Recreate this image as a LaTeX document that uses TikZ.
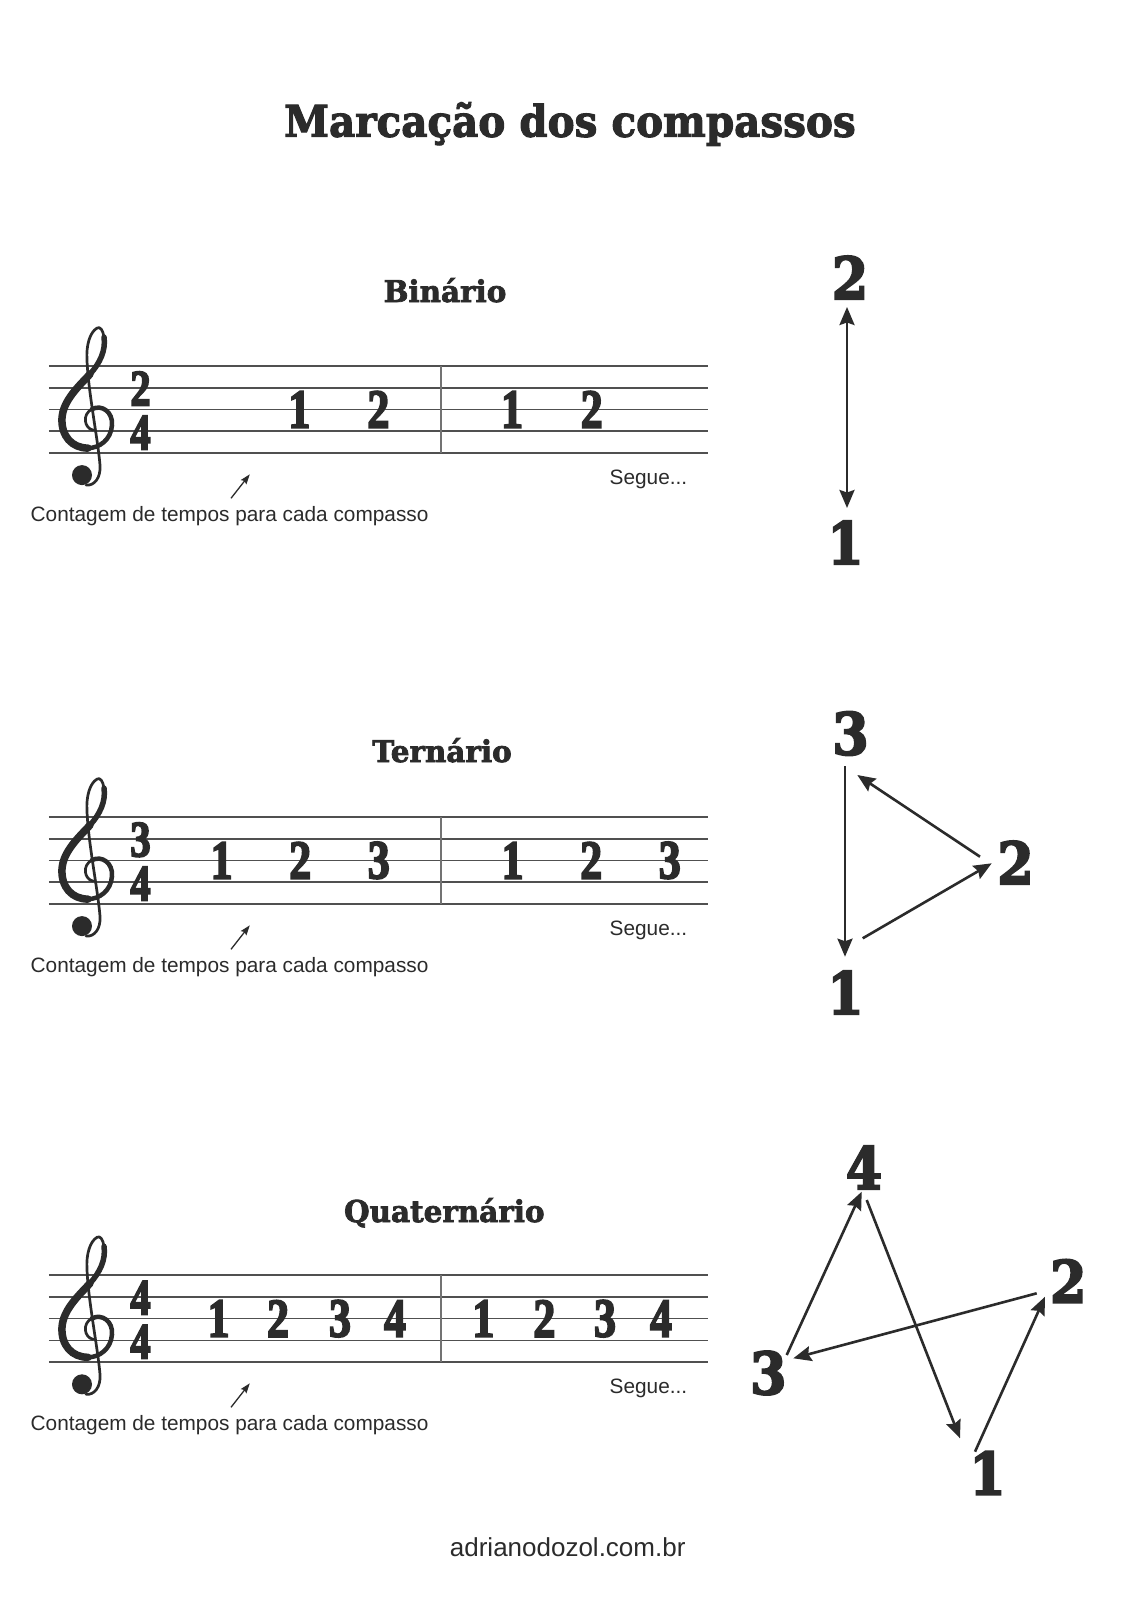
\documentclass[tikz,border=0pt]{standalone}
\usepackage{graphicx}
\usepackage{fontspec}
\setmainfont{Liberation Sans}
\newfontfamily\headfont{DejaVu Serif}[BoldFeatures={FakeBold=2.5}]
\newfontfamily\bigfont{DejaVu Serif}[BoldFeatures={FakeBold=3.5}]
\newfontfamily\numfont{Liberation Serif}[BoldFeatures={FakeBold=3.5}]
\usetikzlibrary{arrows.meta,calc}
\definecolor{ink}{HTML}{2B2B2B}
\definecolor{staffc}{HTML}{505050}
\newcommand\cz[1]{\scalebox{0.8}[1]{#1}}
\newcommand\bz[1]{\scalebox{0.9}[1]{#1}}
\newcommand\hz[1]{\scalebox{0.98}[1]{#1}}
\newcommand\tz[1]{\scalebox{0.93}[1]{#1}}
\tikzset{
  titletext/.style={font=\headfont\bfseries\fontsize{43.5}{50}\selectfont, text=ink, inner sep=0pt, anchor=base},
  headtext/.style={font=\headfont\bfseries\fontsize{30}{36}\selectfont, text=ink, inner sep=0pt, anchor=base},
  snum/.style={font=\numfont\bfseries\fontsize{55}{60}\selectfont, text=ink, inner sep=0pt, anchor=center},
  tsnum/.style={font=\numfont\bfseries\fontsize{51}{44}\selectfont, text=ink, inner sep=0pt, anchor=center, align=center},
  bignum/.style={font=\bigfont\bfseries\fontsize{58}{66}\selectfont, text=ink, inner sep=0pt, anchor=center},
  plain/.style={font=\fontsize{20.8}{25}\selectfont, text=ink, inner sep=0pt, anchor=base west},
  footer/.style={font=\fontsize{26}{30}\selectfont, text=ink, inner sep=0pt, anchor=base},
  staffline/.style={draw=staffc, line width=1.6pt},
  barline/.style={draw=staffc!80, line width=2pt},
  bigarr/.style={draw=ink, line width=2.6pt, >={Stealth[length=18pt,width=15pt,inset=2.5pt]}},
  smallarr/.style={draw=ink, line width=1.3pt, -{Stealth[length=10pt,width=7pt,inset=1.5pt]}},
  gclef/.pic={
    \draw[ink, line width=2.7pt, line cap=round, line join=round]
      (1,-1) .. controls (-8,-3) and (-10,-17) .. (0,-22)
      .. controls (10,-27) and (21,-19) .. (20,-6)
      .. controls (19,9) and (7,17) .. (-4,17)
      .. controls (-20,17) and (-31,5) .. (-30,-13)
      .. controls (-29,-31) and (-12,-46) .. (-2,-57)
      .. controls (8,-68) and (14,-81) .. (12,-94)
      .. controls (11,-101) and (8,-105) .. (5,-103)
      .. controls (-2,-99) and (-6,-86) .. (-5,-71)
      .. controls (-4,-41) and (6,9) .. (8,34)
      .. controls (9,47) and (2,55) .. (-6,54);
    \draw[ink, line width=7.5pt, line cap=round]
      (-4,17) .. controls (-20,17) and (-31,5) .. (-30,-13)
      .. controls (-29,-31) and (-12,-46) .. (-2,-57);
    \draw[ink, line width=5.5pt, line cap=round]
      (-2,-57) .. controls (8,-68) and (14,-81) .. (12,-94);
    \draw[ink, line width=4.5pt, line cap=round]
      (0,-22) .. controls (10,-27) and (21,-19) .. (20,-6)
      .. controls (19,9) and (7,17) .. (-4,17);
    \fill[ink] (-10,44) circle (10);
  }
}
\begin{document}
\begin{tikzpicture}[x=1pt,y=-1pt]
\useasboundingbox (0,0) rectangle (1130,1600);
\fill[white] (0,0) rectangle (1130,1600);

% title
\node[titletext] (title) at (570,136.7) {\tz{Marcação dos compassos}};

% ===== Binario =====
\node[headtext] (h1) at (445,302) {\hz{Binário}};
\foreach \k in {0,...,4} {\draw[staffline] (48.8,366+21.7*\k) -- (707.5,366+21.7*\k);}
\draw[barline] (441,366) -- (441,452.8);
\pic at (92,431.1) {gclef};
\node[tsnum] (ts1) at (140.5,410.5) {\cz{2}\\\cz{4}};
\node[snum] (s1a) at (299.4,409.4) {\cz{1}};
\node[snum] (s1b) at (378.4,409.4) {\cz{2}};
\node[snum] (s1c) at (512,409.4) {\cz{1}};
\node[snum] (s1d) at (591.7,409.4) {\cz{2}};
\node[plain] (seg1) at (609.5,484) {Segue...};
\node[plain] (cnt1) at (30.5,521.7) {Contagem de tempos para cada compasso};
\coordinate (a1s) at (231,498.3);
\coordinate (a1e) at (249.8,474.3);
\draw[smallarr] (a1s) -- (a1e);

\node[bignum] (b2) at (850,277.5) {\bz{2}};
\node[bignum] (b1) at (845.5,542.5) {\bz{1}};
\draw[bigarr,<->] ($(b2)+(-3,29.5)$) -- ($(b1)+(1.5,-34.5)$);

% ===== Ternario =====
\node[headtext] (h2) at (442,762) {\hz{Ternário}};
\foreach \k in {0,...,4} {\draw[staffline] (48.8,817+21.7*\k) -- (707.5,817+21.7*\k);}
\draw[barline] (441,817) -- (441,903.8);
\pic at (92,882.1) {gclef};
\node[tsnum] (ts2) at (140.5,861.5) {\cz{3}\\\cz{4}};
\node[snum] (s2a) at (221.6,860.4) {\cz{1}};
\node[snum] (s2b) at (300.2,860.4) {\cz{2}};
\node[snum] (s2c) at (378.8,860.4) {\cz{3}};
\node[snum] (s2d) at (512.5,860.4) {\cz{1}};
\node[snum] (s2e) at (591.2,860.4) {\cz{2}};
\node[snum] (s2f) at (669.8,860.4) {\cz{3}};
\node[plain] (seg2) at (609.5,935) {Segue...};
\node[plain] (cnt2) at (30.5,972.7) {Contagem de tempos para cada compasso};
\coordinate (a2s) at (231,949.3);
\coordinate (a2e) at (249.8,925.3);
\draw[smallarr] (a2s) -- (a2e);

\node[bignum] (t3) at (850.5,733.5) {\bz{3}};
\node[bignum] (t2) at (1015.5,862.5) {\bz{2}};
\node[bignum] (t1) at (845.5,992.5) {\bz{1}};
\draw[bigarr,->] ($(t3)+(-5.5,32.5)$) -- ($(t1)+(-0.5,-35.8)$);
\draw[bigarr,->] ($(t1)+(17.2,-54.2)$) -- ($(t2)+(-23.8,0.8)$);
\draw[bigarr,->] ($(t2)+(-35.5,-5.8)$) -- ($(t3)+(6.8,41.5)$);

% ===== Quaternario =====
\node[headtext] (h3) at (444.3,1222) {\hz{Quaternário}};
\foreach \k in {0,...,4} {\draw[staffline] (48.8,1275.2+21.7*\k) -- (707.5,1275.2+21.7*\k);}
\draw[barline] (441,1275.2) -- (441,1362);
\pic at (92,1340.3) {gclef};
\node[tsnum] (ts3) at (140.5,1319.7) {\cz{4}\\\cz{4}};
\node[snum] (s3a) at (218.5,1318.6) {\cz{1}};
\node[snum] (s3b) at (278,1318.6) {\cz{2}};
\node[snum] (s3c) at (340,1318.6) {\cz{3}};
\node[snum] (s3d) at (395,1318.6) {\cz{4}};
\node[snum] (s3e) at (483.4,1318.6) {\cz{1}};
\node[snum] (s3f) at (544.4,1318.6) {\cz{2}};
\node[snum] (s3g) at (605,1318.6) {\cz{3}};
\node[snum] (s3h) at (661,1318.6) {\cz{4}};
\node[plain] (seg3) at (609.5,1393) {Segue...};
\node[plain] (cnt3) at (30.5,1430.7) {Contagem de tempos para cada compasso};
\coordinate (a3s) at (231,1407.3);
\coordinate (a3e) at (249.8,1383.3);
\draw[smallarr] (a3s) -- (a3e);

\node[bignum] (q4) at (864,1167.5) {\bz{4}};
\node[bignum] (q2) at (1068.3,1281) {\bz{2}};
\node[bignum] (q3) at (768.3,1373) {\bz{3}};
\node[bignum] (q1) at (987.5,1473) {\bz{1}};
\draw[bigarr,->] ($(q3)+(18.4,-18)$) -- ($(q4)+(-2.3,24.2)$);
\draw[bigarr,->] ($(q4)+(2.7,32.5)$) -- ($(q1)+(-27.5,-34.7)$);
\draw[bigarr,->] ($(q1)+(-12.5,-21.3)$) -- ($(q2)+(-23.3,15.7)$);
\draw[bigarr,->] ($(q2)+(-31.6,12.3)$) -- ($(q3)+(25,-14.7)$);

% footer
\node[footer] (foot) at (567.7,1556) {adrianodozol.com.br};
\end{tikzpicture}
\end{document}
